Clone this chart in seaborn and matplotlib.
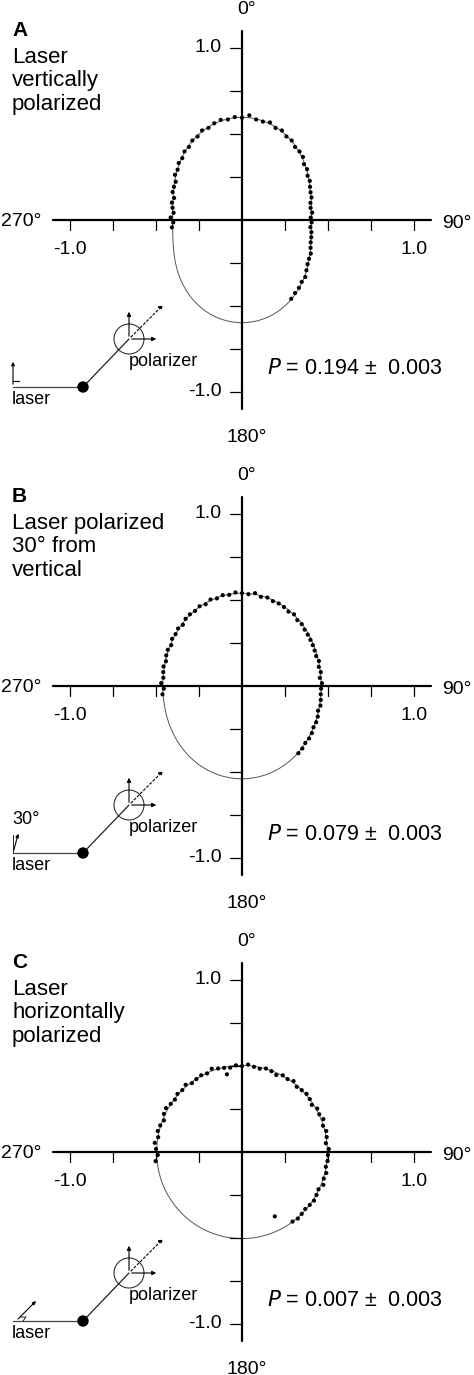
import numpy as np
import pandas as pd
import matplotlib
matplotlib.use("Agg")
import matplotlib.pyplot as plt
import seaborn as sns

sns.set_style("white")
plt.rcParams['font.family'] = ['Liberation Sans', 'DejaVu Sans']
plt.rcParams['text.color'] = 'black'

# ---------------- data ----------------
panel_letters = ["A", "B", "C"]
panel_titles = ["Laser\nvertically\npolarized",
                "Laser polarized\n30\u00b0 from\nvertical",
                "Laser\nhorizontally\npolarized"]
pol_values = [0.194, 0.079, 0.007]
pol_errors = [0.003, 0.003, 0.003]
laser_labels = ["", "30\u00b0", ""]

angles_a = list(range(-96, 149, 4))
radii_a = [.41, .40, .415, .40, .41, .42, .415, .435, .44, .445, .47, .475, .495, .50, .52, .525,
           .545, .55, .57, .57, .585, .595, .59, .60, .595, .61, .59, .585, .59, .57, .57, .55,
           .545, .525, .52, .51, .485, .48, .46, .455, .44, .43, .425, .41, .405, .41, .40, .405,
           .40, .41, .415, .42, .43, .445, .45, .46, .475, .495, .50, .515, .525, .54]
angles_b = list(range(-96, 141, 4))
radii_b = [.465, .455, .47, .46, .465, .47, .465, .475, .48, .475,
           .49, .49, .50, .495, .51, .515, .515, .525, .52, .535,
           .53, .54, .535, .545, .54, .535, .545, .53, .535, .525,
           .525, .52, .51, .515, .50, .50, .49, .485, .48, .475,
           .47, .465, .47, .46, .465, .455, .465, .46, .46, .465,
           .47, .465, .475, .48, .48, .49, .495, .495, .505, .51]
angles_c = list(range(-96, 145, 4)) + [-11, 153]
radii_c = [.505, .49, .50, .51, .495, .505, .50, .49, .505, .51,
           .50, .495, .505, .50, .51, .495, .50, .505, .50, .515,
           .505, .50, .495, .505, .50, .51, .50, .495, .505, .50,
           .49, .505, .50, .51, .495, .50, .505, .50, .49, .505,
           .50, .51, .495, .505, .50, .49, .505, .50, .50, .495,
           .505, .50, .51, .495, .50, .505, .50, .495, .50, .505,
           .50, .46, .42]
panel_angles = [angles_a, angles_b, angles_c]
panel_radii = [radii_a, radii_b, radii_c]

# ---------------- layout ----------------
W, H = 474, 1375
S = 172.0  # px per unit
origins_y = [220, 686, 1152]
bands = [(0, 455), (455, 915), (915, 1375)]
ox = 242

fig = plt.figure(figsize=(W / 100, H / 100), dpi=100)

for i in range(3):
    top, bot = bands[i]
    oy = origins_y[i]
    ax = fig.add_axes([0, 1 - bot / H, 1, (bot - top) / H])
    ax.set_xlim(-ox / S, (W - ox) / S)
    ax.set_ylim(-(bot - oy) / S, (oy - top) / S)
    ax.axis("off")

    def P(px, py):
        return ((px - ox) / S, (oy - py) / S)

    # fitted curve
    th = np.deg2rad(np.linspace(0, 360, 721))
    rf = 0.5 * (1 + pol_values[i] * np.cos(2 * th))
    fit = pd.DataFrame({"x": rf * np.sin(th), "y": rf * np.cos(th)})
    sns.lineplot(data=fit, x="x", y="y", sort=False, estimator=None, ax=ax,
                 color="#555555", lw=0.7)

    # data points
    a = np.deg2rad(np.array(panel_angles[i], float))
    r = np.array(panel_radii[i])
    df = pd.DataFrame({"x": r * np.sin(a), "y": r * np.cos(a)})
    sns.scatterplot(data=df, x="x", y="y", ax=ax, color="black", s=9, edgecolor="none", zorder=4)

    # axes
    ax.plot([-1.1, 1.1], [0, 0], color="black", lw=1.6)
    ax.plot([0, 0], [-1.1, 1.1], color="black", lw=1.6)
    for t in np.arange(-1.0, 1.01, 0.25):
        if abs(t) < 1e-9:
            continue
        ax.plot([t, t], [0, -0.06], color="black", lw=0.9)
        ax.plot([0, -0.07], [t, t], color="black", lw=0.9)
    fs = 14
    ax.text(-0.12, 1.0, "1.0", ha="right", va="center", fontsize=fs)
    ax.text(-0.12, -1.0, "-1.0", ha="right", va="center", fontsize=fs)
    ax.text(-1.0, -0.17, "-1.0", ha="center", va="center", fontsize=fs)
    ax.text(1.0, -0.17, "1.0", ha="center", va="center", fontsize=fs)
    ax.text(*P(247, oy - 210), "0\u00b0", ha="center", va="center", fontsize=fs)
    ax.text(*P(247, oy + 218), "180\u00b0", ha="center", va="center", fontsize=fs)
    ax.text(*P(1, oy + 2), "270\u00b0", ha="left", va="center", fontsize=fs)
    ax.text(*P(442, oy + 3), "90\u00b0", ha="left", va="center", fontsize=fs)

    # titles
    ax.text(*P(12, oy - 189), panel_letters[i], ha="left", va="center",
            fontsize=15, fontweight="bold")
    ax.text(*P(12, oy - 173), panel_titles[i], ha="left", va="top",
            fontsize=16, linespacing=1.15)
    ax.text(*P(267, oy + 148), r"$P$" + " = %.3f \u00b1  %.3f" % (pol_values[i], pol_errors[i]),
            ha="left", va="center", fontsize=15.5)

    # inset diagram
    by = oy + 167 + (0 if i < 2 else 2)
    dot = P(83, by)
    cen = P(129, by - 48)
    ax.plot(*zip(P(13, by), dot), color="#444444", lw=0.9)
    ax.plot(*zip(dot, cen), color="#222222", lw=0.9)
    ax.add_patch(plt.Circle(dot, 5 / S, color="black", zorder=5))
    ax.add_patch(plt.Circle(cen, 15 / S, fill=False, color="#333333", lw=0.8))
    ax.annotate("", xy=P(129, by - 78), xytext=cen,
                arrowprops=dict(arrowstyle="-|>", lw=0.8, color="black", mutation_scale=6))
    ax.annotate("", xy=P(159, by - 48), xytext=cen,
                arrowprops=dict(arrowstyle="-|>", lw=0.8, color="black", mutation_scale=6))
    ax.annotate("", xy=P(165, by - 84), xytext=cen,
                arrowprops=dict(arrowstyle="-|>", lw=0.8, color="black", ls=(0, (2, 2)),
                                mutation_scale=6))
    ax.text(*P(129, by - 26), "polarizer", ha="left", va="center", fontsize=13)
    ax.text(*P(12, by + 12), "laser", ha="left", va="center", fontsize=13)
    if i == 0:
        ax.annotate("", xy=P(13, by - 28), xytext=P(13, by),
                    arrowprops=dict(arrowstyle="-|>", lw=0.8, color="black", mutation_scale=5))
        ax.plot(*zip(P(13, by - 6), P(19, by - 6)), color="black", lw=0.8)
    elif i == 1:
        ax.annotate("", xy=P(19, by - 22), xytext=P(13, by),
                    arrowprops=dict(arrowstyle="-|>", lw=0.8, color="black", mutation_scale=5))
        ax.plot(*zip(P(13, by), P(13, by - 18)), color="black", lw=0.6)
        ax.text(*P(12, by - 34), laser_labels[i], ha="left", va="center", fontsize=13)
    else:
        ax.annotate("", xy=P(38, by - 22), xytext=P(16, by),
                    arrowprops=dict(arrowstyle="-|>", lw=0.8, color="black", mutation_scale=5))
        ax.plot(*zip(P(20, by - 4), P(26, by - 4), P(23, by)), color="black", lw=0.6)

fig.savefig("out.png", dpi=100)
